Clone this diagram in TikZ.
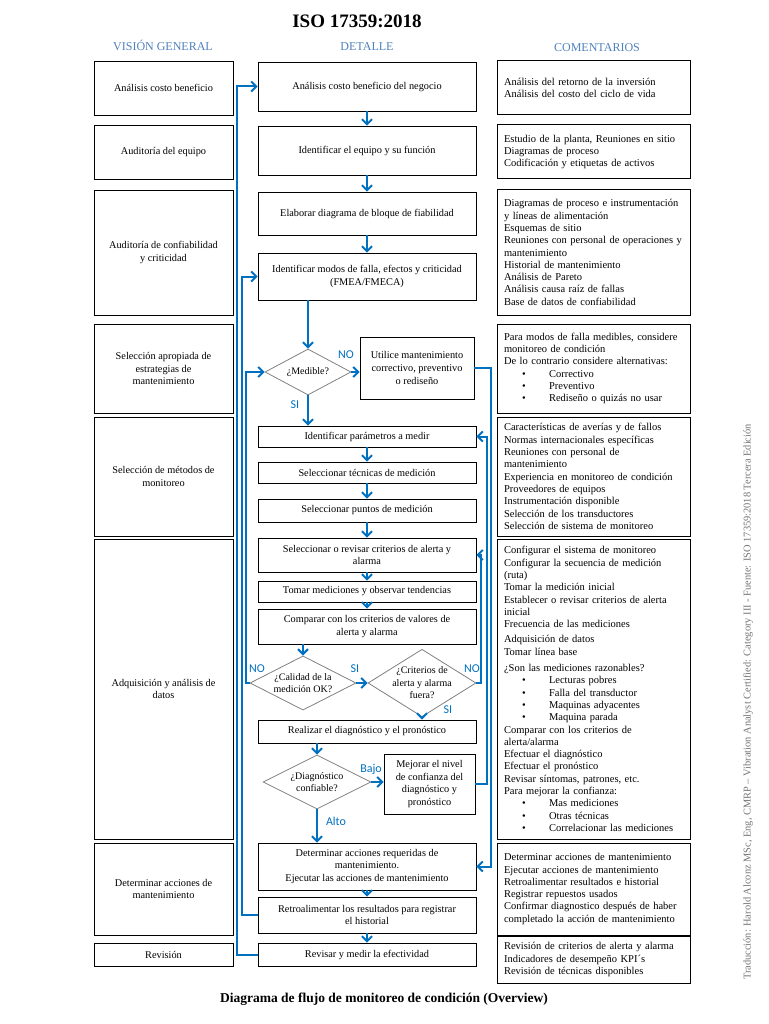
\documentclass[tikz,border=0pt]{standalone}
\usepackage{fontspec}
\setmainfont{Liberation Serif}
\newfontfamily\labfont{Carlito}
\usetikzlibrary{shapes.geometric,arrows.meta}
\definecolor{flowblue}{RGB}{0,112,192}
\definecolor{headblue}{RGB}{79,129,189}
\newcommand{\itm}[1]{\makebox[45pt][l]{\hspace{18pt}\textbullet}#1}
\begin{document}
\begin{tikzpicture}[x=1pt,y=-1pt,
  gbox/.style={draw, line width=0.8pt, minimum width=139pt, align=center, inner sep=2pt, font=\fontsize{10.3}{12.8}\selectfont},
  dbox/.style={draw, line width=0.8pt, minimum width=218pt, align=center, inner sep=2pt, font=\fontsize{10.3}{12.8}\selectfont},
  cbox/.style={draw, line width=1pt, text width=179pt, inner xsep=7pt, align=left, font=\fontsize{10.5}{12.3}\selectfont},
  ask/.style={diamond, draw=gray, line width=0.8pt, inner sep=-6pt, align=center, font=\fontsize{10}{12.5}\selectfont},
  flow/.style={draw=flowblue, line width=2pt, -{Straight Barb[length=5pt,width=10pt]}},
  tag/.style={text=flowblue, inner sep=0pt, font=\labfont\fontsize{12}{12}\selectfont},
  hdr/.style={text=headblue, anchor=base, font=\fontsize{12}{12}\selectfont}]
\useasboundingbox (0,0) rectangle (768,1024);
% titulos
\node[font=\bfseries\fontsize{19}{19}\selectfont] (iso) at (357,21) {ISO 17359:2018};
\node[hdr] (h1) at (163,51) {VISIÓN GENERAL};
\node[hdr] (h2) at (367,51) {DETALLE};
\node[hdr] (h3) at (597,52) {COMENTARIOS};
% vision general
\node[gbox, minimum height=54pt] (g1) at (163.5,88) {Análisis costo beneficio};
\node[gbox, minimum height=54pt] (g2) at (163.5,152) {Auditoría del equipo};
\node[gbox, minimum height=125pt] (g3) at (163.5,252.5) {Auditoría de confiabilidad\\y criticidad};
\node[gbox, minimum height=89pt] (g4) at (163.5,368.5) {Selección apropiada de\\estrategias de\\mantenimiento};
\node[gbox, minimum height=119pt] (g5) at (163.5,476.5) {Selección de métodos de\\monitoreo};
\node[gbox, minimum height=300pt] (g6) at (163.5,689) {Adquisición y análisis de\\datos};
\node[gbox, minimum height=92pt] (g7) at (163.5,889) {Determinar acciones de\\mantenimiento};
\node[gbox, minimum height=23pt] (g8) at (163.5,954.5) {Revisión};
% detalle
\node[dbox, minimum height=49pt] (m1) at (367,86.5) {Análisis costo beneficio del negocio};
\node[dbox, minimum height=49pt] (m2) at (367,150.5) {Identificar el equipo y su función};
\node[dbox, minimum height=43pt] (m3) at (367,213.5) {Elaborar diagrama de bloque de fiabilidad};
\node[dbox, minimum height=47pt] (m4) at (367,276.5) {Identificar modos de falla, efectos y criticidad\\(FMEA/FMECA)};
\node[ask, minimum width=86pt, minimum height=46pt] (d1) at (308,372) {¿Medible?};
\node[dbox, minimum width=114pt, minimum height=62pt] (u) at (417,368) {Utilice mantenimiento\\correctivo, preventivo\\o rediseño};
\node[dbox, minimum height=21pt] (m5) at (367,436.5) {Identificar parámetros a medir};
\node[dbox, minimum height=21pt] (m6) at (367,472.5) {Seleccionar técnicas de medición};
\node[dbox, minimum height=23pt] (m7) at (367,510.5) {Seleccionar puntos de medición};
\node[dbox, minimum height=34pt] (m8) at (367,555) {Seleccionar o revisar criterios de alerta y\\alarma};
\node[dbox, minimum height=21pt] (m9) at (367,591.5) {Tomar mediciones y observar tendencias};
\node[dbox, minimum height=35pt] (m10) at (367,626.5) {Comparar con los criterios de valores de\\alerta y alarma};
\node[ask, minimum width=106pt, minimum height=52pt] (d2) at (303,683) {¿Calidad de la\\medición OK?};
\node[ask, minimum width=108pt, minimum height=52pt] (d3) at (422,683) {¿Criterios de\\alerta y alarma\\fuera?};
\node[dbox, minimum height=23pt] (m11) at (367,731.5) {Realizar el diagnóstico y el pronóstico};
\node[ask, minimum width=108pt, minimum height=54pt] (d4) at (317,782) {¿Diagnóstico\\confiable?};
\node[dbox, minimum width=91pt, minimum height=60pt] (mej) at (429.5,784) {Mejorar el nivel\\de confianza del\\diagnóstico y\\pronóstico};
\node[dbox, minimum height=47pt] (m12) at (367,866.5) {Determinar acciones requeridas de\\mantenimiento.\\Ejecutar las acciones de mantenimiento};
\node[dbox, minimum height=36pt] (m13) at (367,915) {Retroalimentar los resultados para registrar\\el historial};
\node[dbox, minimum height=23pt] (m14) at (367,954.5) {Revisar y medir la efectividad};
% comentarios
\node[cbox, minimum height=54pt] (c1) at (593.5,88) {Análisis del retorno de la inversión\\Análisis del costo del ciclo de vida};
\node[cbox, minimum height=54pt] (c2) at (593.5,152) {Estudio de la planta, Reuniones en sitio\\Diagramas de proceso\\Codificación y etiquetas de activos};
\node[cbox, minimum height=125pt] (c3) at (593.5,252.5) {Diagramas de proceso e instrumentación\\y líneas de alimentación\\Esquemas de sitio\\Reuniones con personal de operaciones y\\mantenimiento\\Historial de mantenimiento\\Análisis de Pareto\\Análisis causa raíz de fallas\\Base de datos de confiabilidad};
\node[cbox, minimum height=89pt] (c4) at (593.5,368.5) {Para modos de falla medibles, considere\\monitoreo de condición\\De lo contrario considere alternativas:\\\itm{Correctivo}\\\itm{Preventivo}\\\itm{Rediseño o quizás no usar}};
\node[cbox, minimum height=119pt] (c5) at (593.5,476.5) {Características de averías y de fallos\\Normas internacionales específicas\\Reuniones con personal de\\mantenimiento\\Experiencia en monitoreo de condición\\Proveedores de equipos\\Instrumentación disponible\\Selección de los transductores\\Selección de sistema de monitoreo};
\node[cbox, minimum height=300pt] (c6) at (593.5,689) {Configurar el sistema de monitoreo\\Configurar la secuencia de medición\\(ruta)\\Tomar la medición inicial\\Establecer o revisar criterios de alerta\\inicial\\Frecuencia de las mediciones\\[3pt]Adquisición de datos\\Tomar línea base\\[4pt]¿Son las mediciones razonables?\\\itm{Lecturas pobres}\\\itm{Falla del transductor}\\\itm{Maquinas adyacentes}\\\itm{Maquina parada}\\Comparar con los criterios de\\alerta/alarma\\Efectuar el diagnóstico\\Efectuar el pronóstico\\Revisar síntomas, patrones, etc.\\Para mejorar la confianza:\\\itm{Mas mediciones}\\\itm{Otras técnicas}\\\itm{Correlacionar las mediciones}};
\node[cbox, minimum height=92pt] (c7) at (593.5,889) {Determinar acciones de mantenimiento\\Ejecutar acciones de mantenimiento\\Retroalimentar resultados e historial\\Registrar repuestos usados\\Confirmar diagnostico después de haber\\completado la acción de mantenimiento};
\node[cbox, minimum height=47pt] (c8) at (593.5,959.5) {Revisión de criterios de alerta y alarma\\Indicadores de desempeño KPI´s\\Revisión de técnicas disponibles};
% etiquetas
\node[tag] (no1) at (346,355) {NO};
\node[tag] (si1) at (295,405) {SI};
\node[tag] (no2) at (257,669) {NO};
\node[tag] (si2) at (355,669) {SI};
\node[tag] (no3) at (472,669) {NO};
\node[tag] (si3) at (448,710) {SI};
\node[tag] (bajo) at (371,769) {Bajo};
\node[tag] (alto) at (336,821) {Alto};
% flechas
\draw[flow] (m1) -- (m2);
\draw[flow] (m2) -- (m3);
\draw[flow] (m3) -- (m4);
\draw[flow] (m4.south -| d1.north) -- (d1.north);
\draw[flow] (d1.south) -- (d1.south |- m5.north);
\draw[flow] (d1.east) -- (d1.east -| u.west);
\foreach \a/\b in {m5/m6, m6/m7, m7/m8, m8/m9, m9/m10}
  \draw[flow] (\a) -- (\b);
\draw[flow] (m10.south -| d2.north) -- (d2.north);
\draw[flow] (d2.east) -- (d3.west);
\draw[flow] (d3.south) -- (d3.south |- m11.north);
\draw[flow] (m11.south -| d4.north) -- (d4.north);
\draw[flow] (d4.east) -- (d4.east -| mej.west);
\draw[flow] (d4.south) -- (d4.south |- m12.north);
\draw[flow] (m12) -- (m13);
\draw[flow] (m13) -- (m14);
% retornos
\draw[flow] (m14.west) -- ++(-21,0) |- (m1.west);
\draw[flow] (m13.west) -- ++(-16,0) |- (m4.west);
\draw[flow] (d2.west) -- ++(-4,0) |- (d1.west);
\draw[flow] (u.east) -- ++(17,0) |- (m12.east);
\draw[flow] (mej.east) -- ++(12,0) |- (m5.east);
\draw[flow] (d3.east) -- ++(5,0) |- (m8.east);
% pie
\node[font=\bfseries\fontsize{13.5}{14}\selectfont] (ttl) at (384,999) {Diagrama de flujo de monitoreo de condición (Overview)};
\node[rotate=90, text=black!55, font=\fontsize{10.4}{10.4}\selectfont] (src) at (748,702) {Traducción: Harold Alconz MSc, Eng, CMRP – Vibration Analyst Certified: Category III - Fuente: ISO 17359:2018 Tercera Edición};
\end{tikzpicture}
\end{document}
